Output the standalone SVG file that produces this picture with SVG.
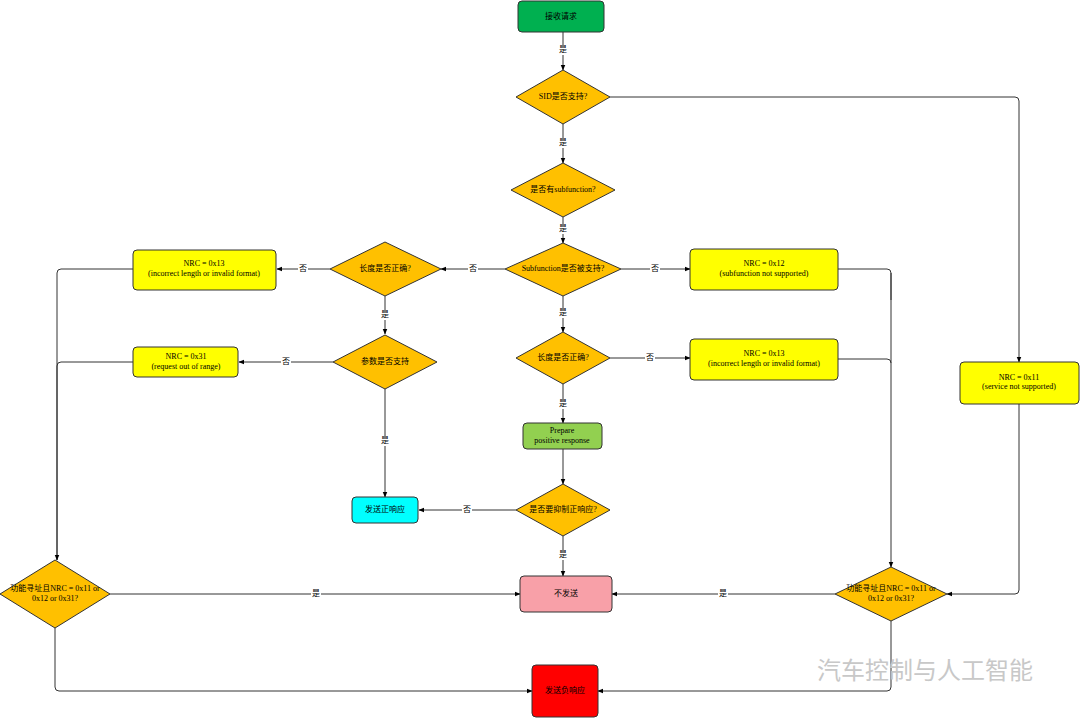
<svg xmlns="http://www.w3.org/2000/svg" width="1080" height="719" viewBox="0 0 1080 719">
<style>
text{font-family:"Liberation Serif","Noto Sans CJK SC",serif;font-size:8px;fill:#000;text-anchor:middle;dominant-baseline:middle}
.d{fill:#ffc000;stroke:#333;stroke-width:1}
.y{fill:#ffff00;stroke:#333;stroke-width:1}
.c path{fill:none;stroke:#333;stroke-width:1;marker-end:url(#a)}
.c path.n{marker-end:none}
.l{fill:#fff;stroke:none}
</style>
<defs><marker id="a" viewBox="0 0 10 10" refX="9" refY="5" markerWidth="6" markerHeight="6" orient="auto"><path d="M0,1L10,5L0,9z" fill="#000"/></marker></defs>
<rect width="1080" height="719" fill="#fff"/>
<g class="c">
<path d="M563,32V70"/>
<path d="M563,124V163"/>
<path d="M610,97H1015Q1019,97 1019,101V362"/>
<path d="M563,217V243"/>
<path d="M505,269H441"/>
<path d="M330,269H277"/>
<path d="M385,296V334"/>
<path d="M333,362H239"/>
<path d="M385,389V497"/>
<path d="M621,269H690"/>
<path d="M563,296V332"/>
<path d="M610,358H690"/>
<path d="M563,384V423"/>
<path d="M563,449V484"/>
<path d="M516,510H419"/>
<path d="M563,536V576"/>
<path class="n" d="M133,269H61Q57,269 57,273V560"/>
<path class="n" d="M133,362H61Q57,362 57,366"/>
<path d="M57,366V560"/>
<path d="M110,594H520"/>
<path d="M55,628V687Q55,691 59,691H532"/>
<path class="n" d="M838,269H887Q891,269 891,273V300"/>
<path class="n" d="M838,359H887Q891,359 891,363"/>
<path d="M891,273V567"/>
<path d="M1019,404V590Q1019,594 1015,594H947"/>
<path d="M835,594H612"/>
<path d="M891,621V687Q891,691 887,691H598"/>
</g>
<g id="labels">
<rect class="l" x="558" y="45" width="10" height="10"/><text x="563" y="50">是</text>
<rect class="l" x="558" y="138" width="10" height="10"/><text x="563" y="143">是</text>
<rect class="l" x="558" y="224" width="10" height="10"/><text x="563" y="229">是</text>
<rect class="l" x="468" y="264" width="10" height="10"/><text x="473" y="269">否</text>
<rect class="l" x="298" y="264" width="10" height="10"/><text x="303" y="269">否</text>
<rect class="l" x="380" y="310" width="10" height="10"/><text x="385" y="315">是</text>
<rect class="l" x="281" y="357" width="10" height="10"/><text x="286" y="362">否</text>
<rect class="l" x="380" y="436" width="10" height="10"/><text x="385" y="441">是</text>
<rect class="l" x="650" y="264" width="10" height="10"/><text x="655" y="269">否</text>
<rect class="l" x="558" y="308" width="10" height="10"/><text x="563" y="313">是</text>
<rect class="l" x="645" y="353" width="10" height="10"/><text x="650" y="358">否</text>
<rect class="l" x="558" y="399" width="10" height="10"/><text x="563" y="404">是</text>
<rect class="l" x="462" y="505" width="10" height="10"/><text x="467" y="510">否</text>
<rect class="l" x="558" y="550" width="10" height="10"/><text x="563" y="555">是</text>
<rect class="l" x="311" y="589" width="10" height="10"/><text x="316" y="594">是</text>
<rect class="l" x="718" y="589" width="10" height="10"/><text x="723" y="594">是</text>
</g>
<g id="start"><rect x="518" y="1" width="86" height="31" rx="4" fill="#00b050" stroke="#333"/><text x="561" y="17">接收请求</text></g>
<g id="d1"><path class="d" d="M563,70L610,97L563,124L516,97z"/><text x="563" y="97">SID是否支持?</text></g>
<g id="d2"><path class="d" d="M563,163L615,190L563,217L511,190z"/><text x="563" y="190">是否有subfunction?</text></g>
<g id="d3"><path class="d" d="M563,243L621,269L563,296L505,269z"/><text x="563" y="269">Subfunction是否被支持?</text></g>
<g id="d4"><path class="d" d="M385,242L441,269L385,296L330,269z"/><text x="385" y="269">长度是否正确?</text></g>
<g id="nrc13l"><rect class="y" x="133" y="250" width="143" height="40" rx="4"/><text x="204" y="264">NRC = 0x13</text><text x="204" y="274">(incorrect length or invalid format)</text></g>
<g id="d5"><path class="d" d="M385,335L437,362L385,389L333,362z"/><text x="385" y="362">参数是否支持</text></g>
<g id="nrc31"><rect class="y" x="133" y="347" width="105" height="30" rx="4"/><text x="186" y="357">NRC = 0x31</text><text x="186" y="367">(request out of range)</text></g>
<g id="pos"><rect x="352" y="497" width="66" height="26" rx="4" fill="#00ffff" stroke="#333"/><text x="385" y="510">发送正响应</text></g>
<g id="nrc12"><rect class="y" x="690" y="249" width="148" height="41" rx="4"/><text x="764" y="264">NRC = 0x12</text><text x="764" y="274">(subfunction not supported)</text></g>
<g id="d6"><path class="d" d="M563,332L610,358L563,384L516,358z"/><text x="563" y="358">长度是否正确?</text></g>
<g id="nrc13r"><rect class="y" x="690" y="339" width="148" height="41" rx="4"/><text x="764" y="354">NRC = 0x13</text><text x="764" y="364">(incorrect length or invalid format)</text></g>
<g id="nrc11"><rect class="y" x="960" y="362" width="119" height="42" rx="4"/><text x="1019" y="378">NRC = 0x11</text><text x="1019" y="387">(service not supported)</text></g>
<g id="prep"><rect x="523" y="423" width="79" height="26" rx="4" fill="#92d050" stroke="#333"/><text x="562" y="431">Prepare</text><text x="562" y="441">positive response</text></g>
<g id="d7"><path class="d" d="M563,484L610,510L563,536L516,510z"/><text x="563" y="510">是否要抑制正响应?</text></g>
<g id="nosend"><rect x="520" y="576" width="92" height="36" rx="4" fill="#f8a0a8" stroke="#333"/><text x="566" y="594">不发送</text></g>
<g id="d8"><path class="d" d="M55,560L110,594L55,628L0,594z"/><text x="55" y="589">功能寻址且NRC = 0x11 or</text><text x="55" y="599">0x12 or 0x31?</text></g>
<g id="d9"><path class="d" d="M891,567L947,594L891,621L835,594z"/><text x="891" y="589">功能寻址且NRC = 0x11 or</text><text x="891" y="599">0x12 or 0x31?</text></g>
<g id="neg"><rect x="532" y="665" width="66" height="52" rx="4" fill="#ff0000" stroke="#333"/><text x="565" y="691">发送负响应</text></g>
<text x="925" y="672" style="font-family:'Noto Sans CJK SC',sans-serif;font-size:24px;fill:#c8c8c8">汽车控制与人工智能</text>
</svg>
